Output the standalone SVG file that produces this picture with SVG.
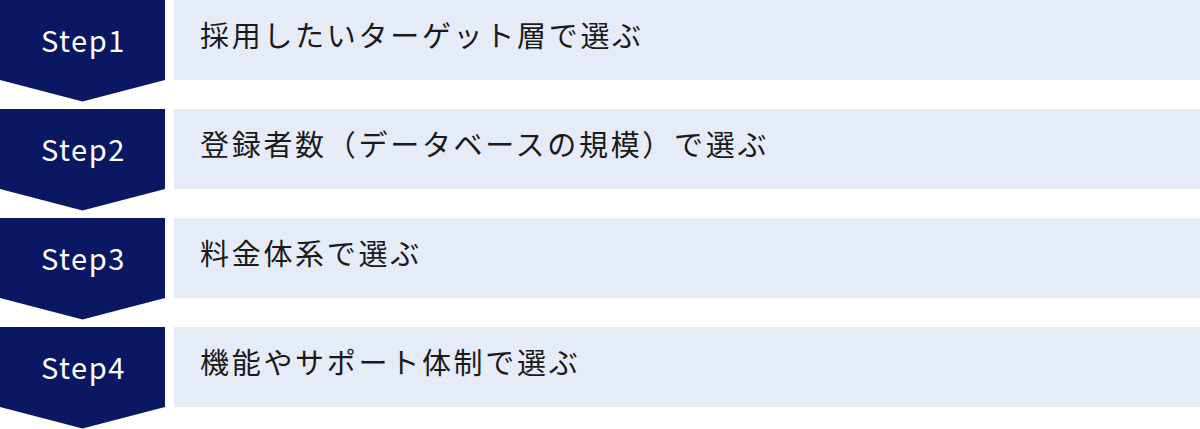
<svg xmlns="http://www.w3.org/2000/svg" width="1200" height="429" viewBox="0 0 1200 429">
<defs>
<style>
.badge{fill:#0a1863}
.bar{fill:#e6ebf8}
.step{font-family:"Noto Sans CJK JP","Noto Sans",sans-serif;font-size:29px;font-weight:400;fill:#ffffff;text-anchor:middle;letter-spacing:1.6px}
.label{font-family:"Noto Sans CJK JP",sans-serif;font-size:29px;fill:#1a1a1a;letter-spacing:2.7px}
</style>
<path id="chev" d="M0 0H165V80L82.5 101.5L0 80Z"/>
</defs>
<rect width="1200" height="429" fill="#ffffff"/>
<g id="step1" transform="translate(0,0)">
<use href="#chev" class="badge"/>
<rect class="bar" x="174" y="0" width="1026" height="80"/>
<text class="step" x="83.5" y="51.5">Step1</text>
<text class="label" x="200" y="47">採用したいターゲット層で選ぶ</text>
</g>
<g id="step2" transform="translate(0,109)">
<use href="#chev" class="badge"/>
<rect class="bar" x="174" y="0" width="1026" height="80"/>
<text class="step" x="83.5" y="51.5">Step2</text>
<text class="label" x="200" y="47">登録者数（データベースの規模）で選ぶ</text>
</g>
<g id="step3" transform="translate(0,218)">
<use href="#chev" class="badge"/>
<rect class="bar" x="174" y="0" width="1026" height="80"/>
<text class="step" x="83.5" y="51.5">Step3</text>
<text class="label" x="200" y="47">料金体系で選ぶ</text>
</g>
<g id="step4" transform="translate(0,327)">
<use href="#chev" class="badge"/>
<rect class="bar" x="174" y="0" width="1026" height="80"/>
<text class="step" x="83.5" y="51.5">Step4</text>
<text class="label" x="200" y="47">機能やサポート体制で選ぶ</text>
</g>
<g id="connectors"></g>
</svg>
